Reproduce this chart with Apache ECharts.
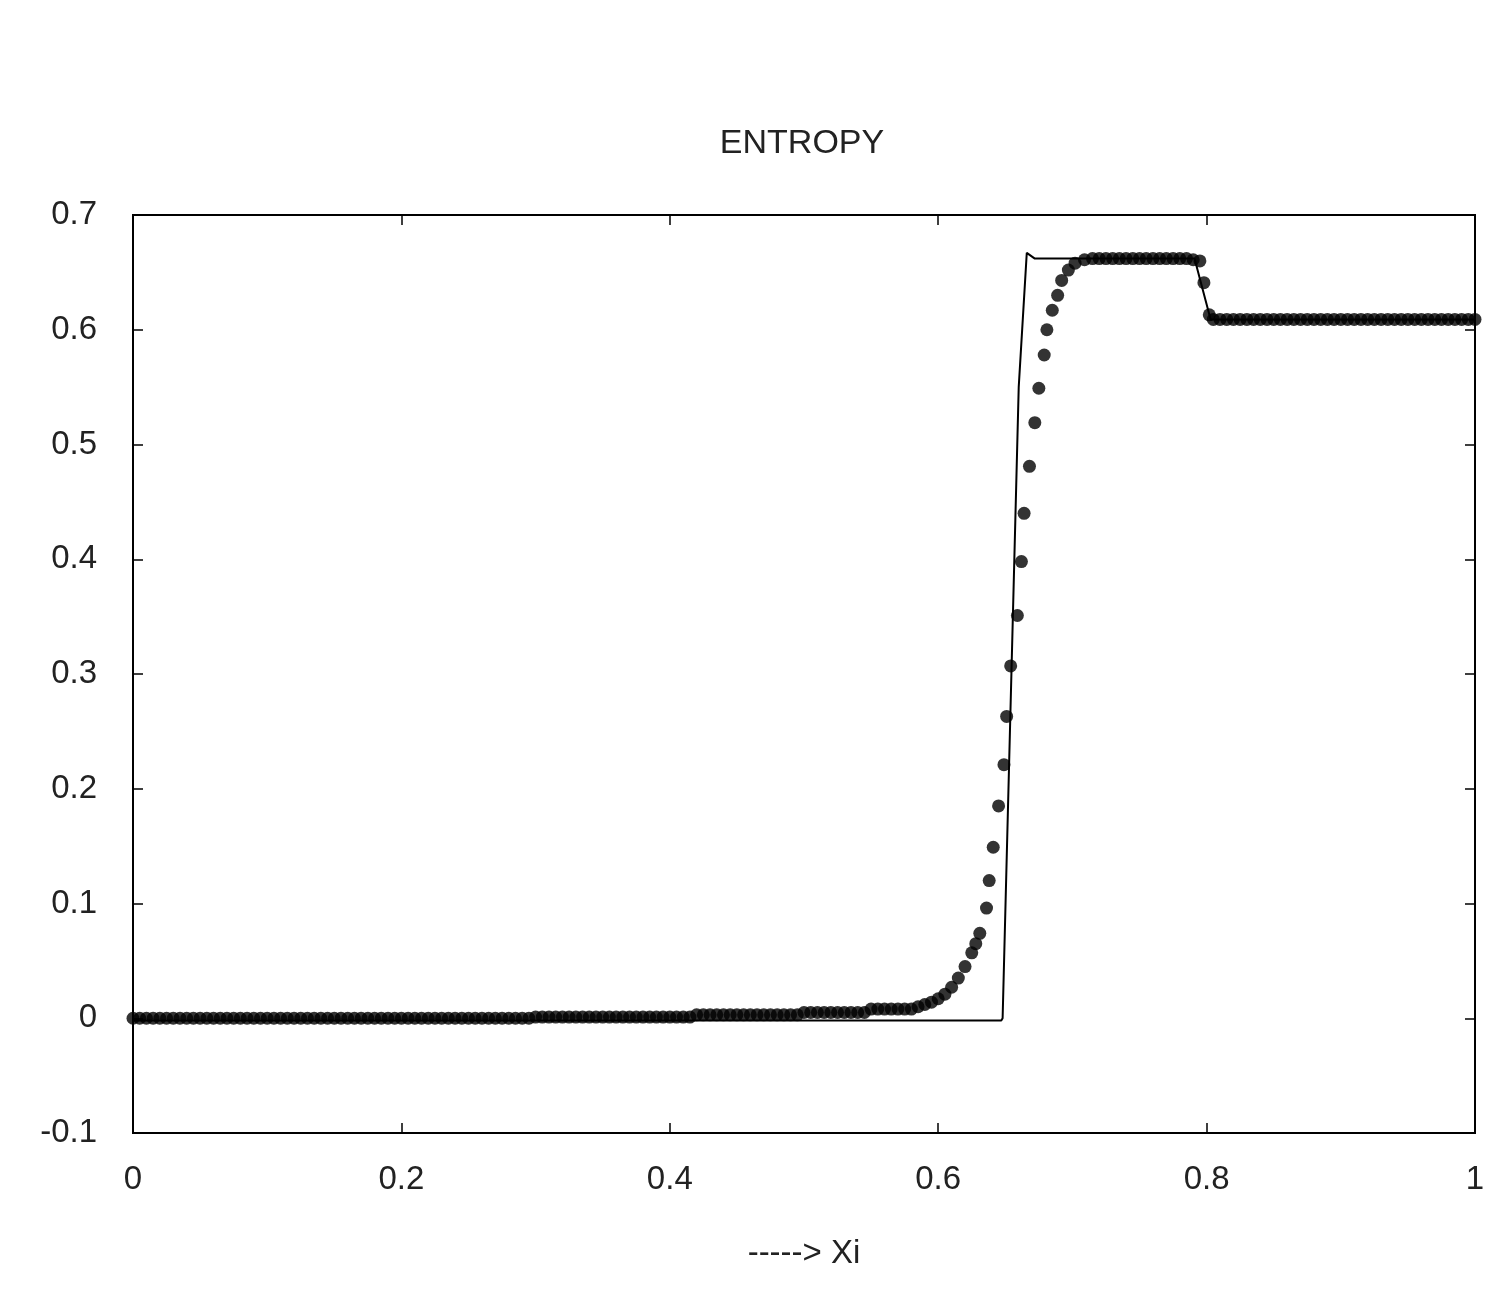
<!DOCTYPE html>
<html><head><meta charset="utf-8">
<script src="https://cdn.jsdelivr.net/npm/echarts@6/dist/echarts.min.js"></script>
<style>html,body{margin:0;padding:0;background:#fff}#c{width:1500px;height:1310px}</style>
</head><body><div id="c"></div>
<script>
const title = 'ENTROPY';
const xName = '-----> Xi';
const xTicks = [0, 0.2, 0.4, 0.6, 0.8, 1];
const yTicks = [-0.1, 0, 0.1, 0.2, 0.3, 0.4, 0.5, 0.6, 0.7];
// numerical solution (markers)
const numX = [
0,0.005,0.01,0.015,0.02,0.025,0.03,0.035,0.04,0.045,0.05,0.055,0.06,0.065,0.07,0.075,0.08,0.085,0.09,0.095,
0.1,0.105,0.11,0.115,0.12,0.125,0.13,0.135,0.14,0.145,0.15,0.155,0.16,0.165,0.17,0.175,0.18,0.185,0.19,0.195,
0.2,0.205,0.21,0.215,0.22,0.225,0.23,0.235,0.24,0.245,0.25,0.255,0.26,0.265,0.27,0.275,0.28,0.285,0.29,0.295,
0.3,0.305,0.31,0.315,0.32,0.325,0.33,0.335,0.34,0.345,0.35,0.355,0.36,0.365,0.37,0.375,0.38,0.385,0.39,0.395,
0.4,0.405,0.41,0.415,0.42,0.425,0.43,0.435,0.44,0.445,0.45,0.455,0.46,0.465,0.47,0.475,0.48,0.485,0.49,0.495,
0.5,0.505,0.51,0.515,0.52,0.525,0.53,0.535,0.54,0.545,0.55,0.555,0.56,0.565,0.57,0.575,0.58,0.585,0.59,0.595,
0.6,0.605,0.61,0.615,0.62,0.625,0.628,
0.631,0.636,0.638,0.641,0.645,0.649,0.651,0.654,0.659,0.662,0.664,0.668,0.672,0.675,0.679,0.681,0.685,0.689,0.692,0.697,0.702,0.709,
0.715,0.72,0.725,0.73,0.735,0.74,0.745,0.75,0.755,0.76,0.765,0.77,0.775,0.78,0.785,0.79,
0.795,0.798,0.802,
0.805,0.81,0.815,0.82,0.825,0.83,0.835,0.84,0.845,0.85,0.855,0.86,0.865,0.87,0.875,0.88,0.885,0.89,0.895,0.9,
0.905,0.91,0.915,0.92,0.925,0.93,0.935,0.94,0.945,0.95,0.955,0.96,0.965,0.97,0.975,0.98,0.985,0.99,0.995,1.0
];
const numY = [
0,0,0,0,0,0,0,0,0,0,0,0,0,0,0,0,0,0,0,0,
0,0,0,0,0,0,0,0,0,0,0,0,0,0,0,0,0,0,0,0,
0,0,0,0,0,0,0,0,0,0,0,0,0,0,0,0,0,0,0,0,
0.001,0.001,0.001,0.001,0.001,0.001,0.001,0.001,0.001,0.001,0.001,0.001,0.001,0.001,0.001,0.001,0.001,0.001,0.001,0.001,
0.001,0.001,0.001,0.001,0.003,0.003,0.003,0.003,0.003,0.003,0.003,0.003,0.003,0.003,0.003,0.003,0.003,0.003,0.003,0.003,
0.005,0.005,0.005,0.005,0.005,0.005,0.005,0.005,0.005,0.005,0.008,0.008,0.008,0.008,0.008,0.008,0.008,0.01,0.012,0.014,
0.017,0.021,0.027,0.035,0.045,0.057,0.065,
0.074,0.096,0.12,0.149,0.185,0.221,0.263,0.307,0.351,0.398,0.44,0.481,0.519,0.549,0.578,0.6,0.617,0.63,0.643,0.652,0.658,0.661,
0.662,0.662,0.662,0.662,0.662,0.662,0.662,0.662,0.662,0.662,0.662,0.662,0.662,0.662,0.662,0.661,
0.66,0.641,0.613,
0.609,0.609,0.609,0.609,0.609,0.609,0.609,0.609,0.609,0.609,0.609,0.609,0.609,0.609,0.609,0.609,0.609,0.609,0.609,0.609,
0.609,0.609,0.609,0.609,0.609,0.609,0.609,0.609,0.609,0.609,0.609,0.609,0.609,0.609,0.609,0.609,0.609,0.609,0.609,0.609
];
// exact solution (line)
const exX = [0, 0.647, 0.648, 0.66, 0.666, 0.672, 0.791, 0.803, 1.0];
const exY = [-0.002, -0.002, 0.0, 0.55, 0.667, 0.662, 0.662, 0.609, 0.609];

const chart = echarts.init(document.getElementById('c'));
const font = 'Liberation Sans, DejaVu Sans, sans-serif';
const lbl = {color:'#222', fontSize:33, fontFamily:font};
const tick = {show:true, inside:true, length:10, lineStyle:{color:'#000', width:1.5}};
const line = {show:true, onZero:false, lineStyle:{color:'#000', width:2}};
chart.setOption({
  animation:false,
  backgroundColor:'#fff',
  title:{text:title, left:797, textAlign:'center', top:122, textStyle:{fontSize:34, fontWeight:'normal', color:'#222', fontFamily:font}},
  grid:{left:133, right:25, top:215, bottom:177, show:true, borderColor:'#000', borderWidth:2},
  xAxis:[
    {type:'value', min:0, max:1, interval:0.2, axisLine:line, axisTick:tick, splitLine:{show:false},
     axisLabel:{...lbl, margin:30, formatter:v=>String(+v.toFixed(1))}, name:xName, nameLocation:'middle', nameGap:104,
     nameTextStyle:{...lbl}},
    {type:'value', position:'top', min:0, max:1, interval:0.2, axisLine:line, axisTick:tick, splitLine:{show:false}, axisLabel:{show:false}}
  ],
  yAxis:[
    {type:'value', min:-0.1, max:0.7, interval:0.1, axisLine:line, axisTick:tick, splitLine:{show:false},
     axisLabel:{...lbl, margin:36, formatter:v=>String(+v.toFixed(1))}},
    {type:'value', position:'right', min:-0.1, max:0.7, interval:0.1, axisLine:line, axisTick:tick, splitLine:{show:false}, axisLabel:{show:false}}
  ],
  series:[
    {type:'line', data:exX.map((x,i)=>[x,exY[i]]), showSymbol:false, lineStyle:{color:'#000', width:2}, z:2},
    {type:'scatter', data:numX.map((x,i)=>[x,numY[i]]), symbol:'circle', symbolSize:13, itemStyle:{color:'#000'}, z:3}
  ]
});
</script></body></html>
